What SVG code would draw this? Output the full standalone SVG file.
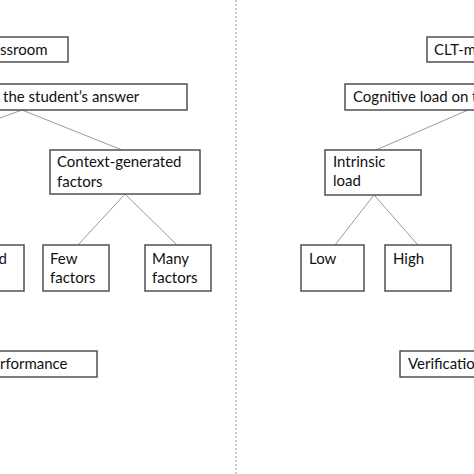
<svg xmlns="http://www.w3.org/2000/svg" width="474" height="474" viewBox="0 0 474 474">
<style>
.box{fill:#fff;stroke:#505050;stroke-width:1.5}
.t{font-family:Lato,"Liberation Sans",sans-serif;font-size:15px;fill:#111}
.c{stroke:#9a9a9a;stroke-width:1;fill:none}
</style>
<rect width="474" height="474" fill="#fff"/>
<line x1="236" y1="0" x2="236" y2="474" stroke="#9a9a9a" stroke-width="1" stroke-dasharray="2,2"/>
<g id="connectors">
<line class="c" x1="22" y1="110" x2="0" y2="118"/>
<line class="c" x1="22" y1="110" x2="122" y2="150"/>
<line class="c" x1="125" y1="194" x2="78" y2="245"/>
<line class="c" x1="125" y1="194" x2="177" y2="245"/>
<line class="c" x1="468" y1="110" x2="376" y2="150"/>
<line class="c" x1="374" y1="195" x2="335" y2="245"/>
<line class="c" x1="374" y1="195" x2="418" y2="245"/>
</g>
<g id="classroom"><rect class="box" x="-5" y="37" width="73" height="25"/><text class="t" x="0" y="55">ssroom</text></g>
<g id="answer"><rect class="box" x="-5" y="84" width="192" height="26"/><text class="t" x="3" y="102">the student’s answer</text></g>
<g id="context"><rect class="box" x="50" y="150" width="150" height="44"/><text class="t" x="57" y="167">Context-generated</text><text class="t" x="57" y="187">factors</text></g>
<g id="leftbox"><rect class="box" x="-5" y="245" width="29" height="46"/><text class="t" x="7" y="264" text-anchor="end">d</text></g>
<g id="few"><rect class="box" x="43" y="245" width="66" height="46"/><text class="t" x="50" y="264">Few</text><text class="t" x="50" y="283">factors</text></g>
<g id="many"><rect class="box" x="145" y="245" width="66" height="46"/><text class="t" x="152" y="264">Many</text><text class="t" x="152" y="283">factors</text></g>
<g id="performance"><rect class="box" x="-5" y="351" width="102" height="26"/><text class="t" x="0" y="369">rformance</text></g>
<g id="clt"><rect class="box" x="427" y="37" width="60" height="25"/><text class="t" x="434" y="55">CLT-m</text></g>
<g id="cognitive"><rect class="box" x="345" y="84" width="140" height="26"/><text class="t" x="353" y="102">Cognitive load on t</text></g>
<g id="intrinsic"><rect class="box" x="325" y="150" width="96" height="45"/><text class="t" x="333" y="167">Intrinsic</text><text class="t" x="333" y="186">load</text></g>
<g id="low"><rect class="box" x="301" y="245" width="63" height="46"/><text class="t" x="309" y="264">Low</text></g>
<g id="high"><rect class="box" x="385" y="245" width="66" height="46"/><text class="t" x="393" y="264">High</text></g>
<g id="verification"><rect class="box" x="400" y="351" width="90" height="26"/><text class="t" x="408" y="369">Verificatio</text></g>
</svg>
